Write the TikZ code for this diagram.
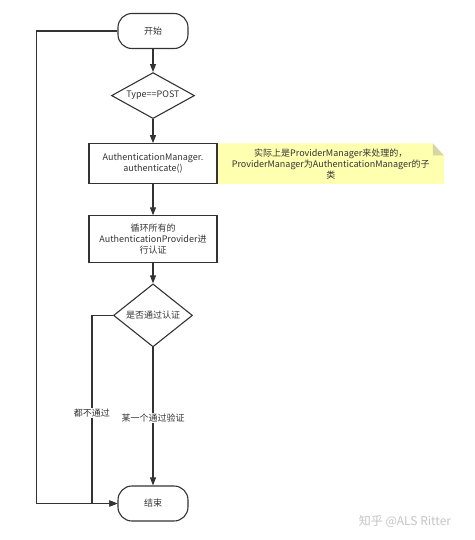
\documentclass[tikz,border=0pt]{standalone}
\usepackage{fontspec}
\setmainfont{Noto Sans CJK SC}
\usepackage{tikz}
\usetikzlibrary{arrows.meta,positioning,shapes.geometric,backgrounds}
\definecolor{inkgray}{HTML}{333333}
\definecolor{noteyellow}{HTML}{FFFFB0}
\definecolor{notefold}{HTML}{D6D6A4}
\definecolor{markgray}{HTML}{C4C4C4}

\begin{document}
\begin{tikzpicture}[x=1pt,y=1pt,>={Triangle[length=8pt,width=6pt]},
    font=\fontsize{9}{11}\selectfont,
    terminal/.style={draw=inkgray,line width=1.1pt,rounded corners=14pt,
      minimum width=70pt,minimum height=35pt,text=inkgray},
    process/.style={draw=inkgray,line width=1.1pt,minimum width=128pt,
      align=center,text=inkgray,inner sep=2pt},
    decision/.style={draw=inkgray,line width=1.1pt,diamond,inner sep=0pt,
      text=inkgray},
    flow/.style={->,draw=inkgray,line width=1.1pt},
    branch/.style={fill=white,text=inkgray,inner sep=1pt}]
    \useasboundingbox (0,0) rectangle (474,-540);
    \node[terminal] (start) at (153,-31) {开始};
    \node[decision,aspect=1.8,minimum width=83pt,minimum height=46pt,
      below=23pt of start] (ispost) {Type==POST};
    \node[process,minimum height=40pt,below=24pt of ispost] (authmgr) {
      AuthenticationManager.\\authenticate()};
    \node[process,minimum height=47pt,below=31pt of authmgr] (providers) {
      循环所有的\\AuthenticationProvider进\\行认证};
    \node[decision,aspect=1.25,minimum width=79pt,minimum height=63pt,
      below=20pt of providers] (passed) {是否通过认证};
    \node[terminal,below=138pt of passed] (finish) {结束};
    % note beside the manager box
    \node[minimum width=226pt,minimum height=40pt,align=center,text=inkgray,
      right=0pt of authmgr] (hint) {
      实际上是ProviderManager来处理的，\\
      ProviderManager为AuthenticationManager的子\\
      类};
    \begin{scope}[on background layer]
      \fill[noteyellow] (hint.north west) -- ([xshift=-11pt]hint.north east)
        -- ([yshift=-12pt]hint.north east) |- (hint.south west) -- cycle;
      \fill[notefold] ([xshift=-11pt]hint.north east)
        -- ([yshift=-12pt]hint.north east)
        -- ([xshift=-11pt,yshift=-12pt]hint.north east) -- cycle;
    \end{scope}
    \draw[flow] (start) -- (ispost);
    \draw[flow] (ispost) -- (authmgr);
    \draw[flow] (authmgr) -- (providers);
    \draw[flow] (providers) -- (passed);
    \draw[flow] (passed) -- node[branch,pos=0.51] {某一个通过验证} (finish);
    \draw[flow] (start.west) -- ++(-81pt,0) |- (finish.west);
    \draw[flow] (passed.west) -- ++(-21pt,0)
      |- node[branch,pos=0.26] {都不通过} (finish.west);
    \node[text=markgray,font=\fontsize{12}{14}\selectfont] (mark) at (405,-521)
      {知乎 @ALS Ritter};
  \end{tikzpicture}
\end{document}
